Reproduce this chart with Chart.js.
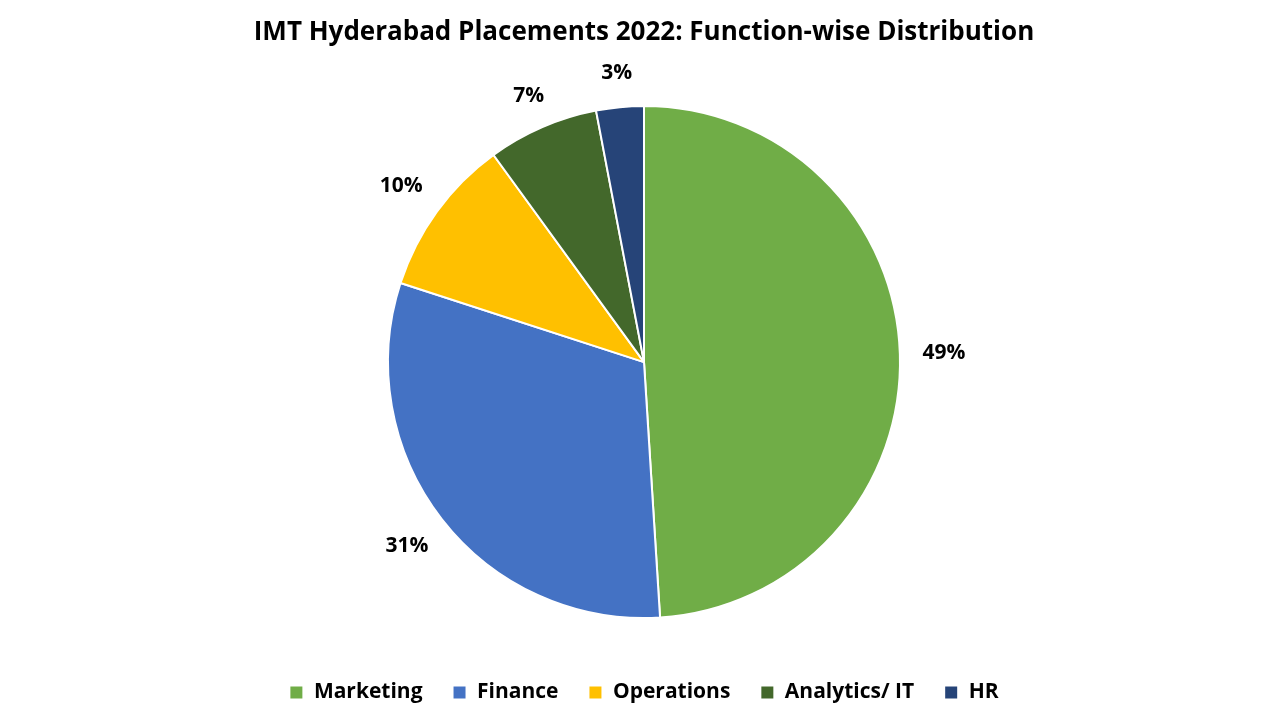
<!DOCTYPE html>
<html><head><meta charset="utf-8">
<script src="https://cdn.jsdelivr.net/npm/chart.js@4/dist/chart.umd.min.js"></script>
<style>html,body{margin:0;background:#fff}#w{width:1280px;height:720px}</style>
</head><body><div id="w"><canvas id="c"></canvas></div>
<script>
const categories = ["Marketing","Finance","Operations","Analytics/ IT","HR"];
const values = [49,31,10,7,3];
const colors = ["#70ad47","#4472c4","#ffc000","#43682b","#264478"];
const labelPlugin = {
  id:'outLabels',
  afterDatasetsDraw(chart){
    const ctx=chart.ctx, meta=chart.getDatasetMeta(0);
    ctx.save();
    ctx.font='bold 21px "Open Sans", sans-serif';
    ctx.fillStyle='#000';ctx.textAlign='center';ctx.textBaseline='middle';
    meta.data.forEach((arc,i)=>{
      const a=(arc.startAngle+arc.endAngle)/2, r=arc.outerRadius+(i>=3?34:44);
      ctx.fillText(values[i]+'%', arc.x+Math.cos(a)*r, arc.y+Math.sin(a)*r);
    });
    ctx.restore();
  }
};
new Chart(document.getElementById('c'),{
  type:'pie',
  data:{labels:categories,datasets:[{data:values,backgroundColor:colors,borderColor:'#fff',borderWidth:2,radius:256}]},
  options:{
    responsive:true,maintainAspectRatio:false,animation:false,
    layout:{padding:{top:0,bottom:7,left:8}},
    plugins:{
      title:{display:true,text:'IMT Hyderabad Placements 2022: Function-wise Distribution',color:'#000',
        font:{family:'"Open Sans", sans-serif',size:26,weight:'bold'},padding:{top:17,bottom:24}},
      legend:{position:'bottom',labels:{color:'#000',boxWidth:14,boxHeight:14,padding:30,
        font:{family:'"Open Sans", sans-serif',size:21,weight:'bold'}}},
      tooltip:{enabled:false}
    }
  },
  plugins:[labelPlugin]
});
</script></body></html>
